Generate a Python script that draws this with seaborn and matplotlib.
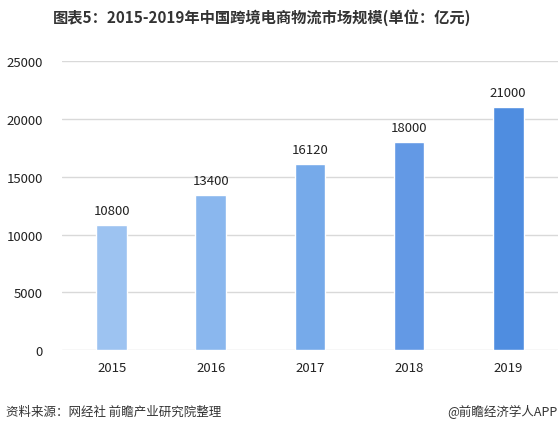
import pandas as pd
import matplotlib
matplotlib.use("Agg")
import matplotlib.pyplot as plt
import seaborn as sns

# data
years = ["2015", "2016", "2017", "2018", "2019"]
values = [10800, 13400, 16120, 18000, 21000]
bar_colors = ["#9DC3F1", "#8AB7EE", "#76AAEA", "#6399E5", "#4F8DE0"]

df = pd.DataFrame({"year": years, "value": values})

sns.set_style("white")
plt.rcParams["font.family"] = ["Noto Sans CJK SC", "DejaVu Sans"]

fig = plt.figure(figsize=(5.6, 4.35), dpi=100)
ax = fig.add_axes([0.111, 0.193, 0.885, 0.664])

sns.barplot(data=df, x="year", y="value", hue="year", palette=bar_colors,
            saturation=1, legend=False, width=0.31, ax=ax, zorder=3)

# value labels above bars
for i, v in enumerate(values):
    ax.text(i, v + 700, str(v), ha="center", va="bottom", fontsize=9.5, color="#222222")

ax.set_ylim(0, 25000)
ax.set_yticks(range(0, 25001, 5000))
ax.set_xlabel("")
ax.set_ylabel("")
ax.yaxis.grid(True, color="#d9d9d9", linewidth=1, zorder=0)
for s in ax.spines.values():
    s.set_visible(False)
ax.tick_params(axis="both", length=0, labelsize=9.5, colors="#222222")
ax.tick_params(axis="y", pad=14)
ax.tick_params(axis="x", pad=8)

fig.text(0.468, 0.96, "图表5：2015-2019年中国跨境电商物流市场规模(单位：亿元)",
         ha="center", va="center", fontsize=11, fontweight="bold", color="#333333")
fig.text(0.01, 0.052, "资料来源：网经社 前瞻产业研究院整理", ha="left", va="center",
         fontsize=9, color="#333333")
fig.text(0.995, 0.052, "@前瞻经济学人APP", ha="right", va="center",
         fontsize=9, color="#333333")

fig.savefig("out.png", dpi=100)
